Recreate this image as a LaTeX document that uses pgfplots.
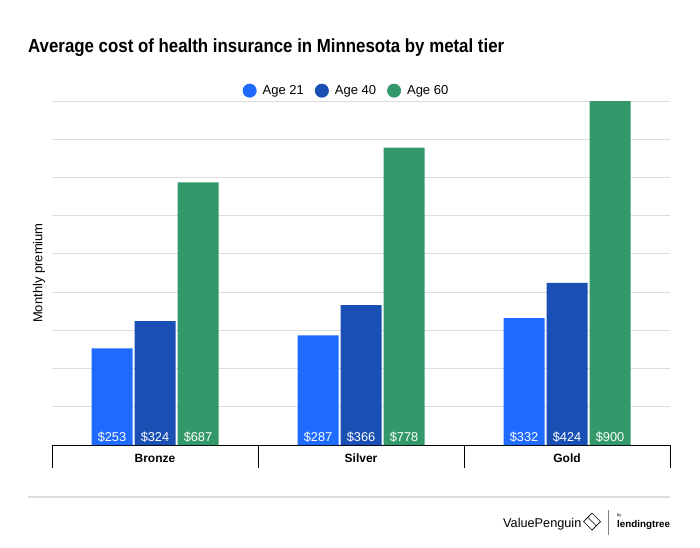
\documentclass[border=0pt]{standalone}
\usepackage{fontspec}
\setmainfont{Liberation Sans}
\usepackage{pgfplots}
\pgfplotsset{compat=1.18}
\definecolor{c21}{HTML}{1F6BFF}
\definecolor{c40}{HTML}{1A50B4}
\definecolor{c60}{HTML}{34996A}
\definecolor{gridc}{HTML}{DDDDDD}
\pgfplotsset{
  mybar/.style={ybar, bar width=41pt, bar shift=#1, draw=none,
    legend image code/.code={\fill[##1, draw=none] (7pt,0pt) circle (7pt);}},
  mylab/.style={draw=none, mark=none, forget plot,
    point meta=explicit symbolic, nodes near coords,
    nodes near coords style={white, anchor=base, xshift=#1, yshift=3.5pt, inner sep=0pt, font=\fontsize{12.8}{14}\selectfont}},
}
\begin{document}
\begin{tikzpicture}[x=1pt,y=1pt]
\path[use as bounding box] (0,0) rectangle (700,547);
\node[anchor=base west, inner sep=0] at (28,494) {\resizebox{476pt}{\height}{\fontsize{19}{22}\selectfont\bfseries Average cost of health insurance in Minnesota by metal tier}};
\begin{axis}[
  at={(52pt,102pt)}, anchor=south west, scale only axis, width=618pt, height=344pt,
  xmin=0, xmax=3, ymin=0, ymax=900,
  axis x line=bottom, axis y line=left, axis line style={-},
  y axis line style={draw=none},
  x axis line style={black, line width=1pt},
  ytick={0,100,...,900}, yticklabels={}, ytick style={draw=none},
  ymajorgrids, grid style={gridc, line width=1pt},
  xtick={0.5,1.5,2.5}, xticklabels={Bronze,Silver,Gold},
  major tick length=0pt,
  xticklabel style={font=\fontsize{12}{14}\selectfont\bfseries, anchor=base, yshift=-17pt},
  extra x ticks={0,1,2,3}, extra x tick labels={},
  extra x tick style={tick align=outside, major tick length=23pt, tick style={black, line width=1pt}},
  ylabel={Monthly premium},
  every axis y label/.style={at={(axis description cs:-0.021,0.5)}, rotate=90, anchor=center, font=\fontsize{13}{15}\selectfont},
  legend style={at={(axis description cs:0.4765,1.030)}, anchor=center, draw=none, fill=none,
    legend columns=3, font=\fontsize{13}{15}\selectfont,
    /tikz/every odd column/.append style={column sep=4pt},
    /tikz/every even column/.append style={column sep=9pt}},
  clip=false,
]
\addplot[mybar=-43pt, fill=c21] coordinates {(0.5,253) (1.5,287) (2.5,332)};
\addlegendentry{Age 21}
\addplot[mybar=0pt, fill=c40] coordinates {(0.5,324) (1.5,366) (2.5,424)};
\addlegendentry{Age 40}
\addplot[mybar=43pt, fill=c60] coordinates {(0.5,687) (1.5,778) (2.5,900)};
\addlegendentry{Age 60}
\addplot[mylab=-43pt] coordinates {(0.5,0) [\$253] (1.5,0) [\$287] (2.5,0) [\$332]};
\addplot[mylab=0pt] coordinates {(0.5,0) [\$324] (1.5,0) [\$366] (2.5,0) [\$424]};
\addplot[mylab=43pt] coordinates {(0.5,0) [\$687] (1.5,0) [\$778] (2.5,0) [\$900]};
\end{axis}
\draw[gridc, line width=1.5pt] (28,50) -- (670,50);
\node[anchor=base west, inner sep=0, font=\fontsize{12.7}{14}\selectfont] at (503,20) {ValuePenguin};
\draw[line width=0.7pt] (592,34)--(600.5,25.5)--(592,17)--(583.5,25.5)--cycle;
\draw[line width=0.7pt] (587.75,29.75)--(596.25,21.25);
\draw[gray, line width=0.6pt] (608,12)--(608,37);
\node[anchor=base west, inner sep=0, font=\fontsize{9.8}{11}\selectfont\bfseries] at (617,20) {lendingtree};
\node[anchor=base west, inner sep=0, font=\fontsize{4}{5}\selectfont] at (617,31) {by};
\end{tikzpicture}
\end{document}
